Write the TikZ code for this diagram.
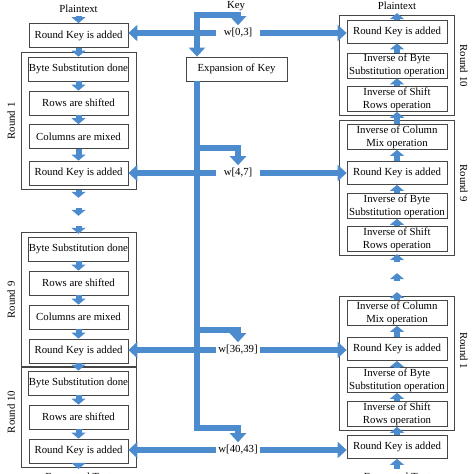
\documentclass[tikz,border=0pt]{standalone}
\usepackage{fontspec}
\setmainfont{Liberation Serif}
\usepackage{xcolor}
\usetikzlibrary{arrows.meta, positioning, fit, calc}
\definecolor{keyblue}{RGB}{76,139,205}
\definecolor{edge}{RGB}{70,70,70}

\begin{document}
\begin{tikzpicture}[
  x=1pt, y=-1pt,
  font=\fontsize{10.8}{13}\selectfont,
  stage/.style={draw=edge, line width=0.8pt, minimum width=99pt, minimum height=24pt, inner xsep=0.5pt, inner ysep=1pt, align=center},
  rframe/.style={draw=edge, line width=0.8pt, inner xsep=7pt, inner ysep=4pt},
  flow/.style={line width=6pt, color=keyblue, -{Triangle[length=6pt, width=14pt]}},
  keyarr/.style={line width=6.5pt, color=keyblue, -{Triangle[length=9pt, width=16pt]}},
  wlbl/.style={minimum width=44pt, inner xsep=1pt, inner ysep=3pt},
  rlbl/.style={inner sep=1pt}
]
\useasboundingbox (0,0) rectangle (474,474);

% encryption (left)
\node[anchor=base] (ptl) at (78.5,12) {Plaintext};
\node[stage] (rk0) at (78.5,35.5) {Round Key is added};
\node[stage] (bs1) at (78.5,69) {Byte Substitution done};
\node[stage] (rs1) at (78.5,103) {Rows are shifted};
\node[stage] (cm1) at (78.5,136.5) {Columns are mixed};
\node[stage] (rk1) at (78.5,173) {Round Key is added};
\node[stage] (bs9) at (78.5,249) {Byte Substitution done};
\node[stage] (rs9) at (78.5,283) {Rows are shifted};
\node[stage] (cm9) at (78.5,317) {Columns are mixed};
\node[stage] (rk9) at (78.5,351) {Round Key is added};
\node[stage] (bs10) at (78.5,383) {Byte Substitution done};
\node[stage] (rs10) at (78.5,417) {Rows are shifted};
\node[stage] (rk10) at (78.5,451) {Round Key is added};
\node[anchor=base] (encl) at (78.5,480) {Encrypted Text};

\node[rframe, fit=(bs1)(rk1)] (f1) {};
\node[rframe, fit=(bs9)(rk9)] (f9) {};
\node[rframe, fit=(bs10)(rk10)] (f10) {};
\node[rlbl, rotate=90] (lr1) at ([xshift=-9.5pt]f1.west) {Round 1};
\node[rlbl, rotate=90] (lr9) at ([xshift=-9.5pt]f9.west) {Round 9};
\node[rlbl, rotate=90] (lr10) at ([xshift=-9.5pt, yshift=5pt]f10.west) {Round 10};

% decryption (right)
\node[anchor=base] (ptr) at (397,9.5) {Plaintext};
\node[stage, minimum width=100pt, minimum height=23pt] (rkr10) at (397,31.5) {Round Key is added};
\node[stage, minimum width=100pt] (ibsr10) at (397,65.5) {Inverse of Byte\\Substitution operation};
\node[stage, minimum width=100pt] (isrr10) at (397,99) {Inverse of Shift\\Rows operation};
\node[stage, minimum width=100pt] (icmr9) at (397,137) {Inverse of Column\\Mix operation};
\node[stage, minimum width=100pt, minimum height=23pt] (rkr9) at (397,173) {Round Key is added};
\node[stage, minimum width=100pt] (ibsr9) at (397,206) {Inverse of Byte\\Substitution operation};
\node[stage, minimum width=100pt] (isrr9) at (397,239) {Inverse of Shift\\Rows operation};
\node[stage, minimum width=100pt] (icmr1) at (397,313) {Inverse of Column\\Mix operation};
\node[stage, minimum width=100pt, minimum height=23pt] (rkr1) at (397,349) {Round Key is added};
\node[stage, minimum width=100pt] (ibsr1) at (397,380) {Inverse of Byte\\Substitution operation};
\node[stage, minimum width=100pt] (isrr1) at (397,414) {Inverse of Shift\\Rows operation};
\node[stage, minimum width=100pt, minimum height=23pt] (rkf) at (397,447) {Round Key is added};
\node[anchor=base] (encr) at (397,480) {Encrypted Text};

\node[rframe, fit=(rkr10)(isrr10)] (fr10) {};
\node[rframe, fit=(icmr9)(isrr9)] (fr9) {};
\node[rframe, fit=(icmr1)(isrr1)] (fr1) {};
\node[rlbl, rotate=-90] (rr10) at ([xshift=9pt]fr10.east) {Round 10};
\node[rlbl, rotate=-90] (rr9) at ([xshift=9pt, yshift=5pt]fr9.east) {Round 9};
\node[rlbl, rotate=-90] (rr1) at ([xshift=9pt, yshift=13pt]fr1.east) {Round 1};

% key schedule (middle)
\node[anchor=base] (key) at (236,8.5) {Key};
\node[stage, minimum width=101pt] (expk) at (236.5,69) {Expansion of Key};
\node[wlbl] (w03) at (238,33) {w[0,3]};
\node[wlbl] (w47) at (238,173) {w[4,7]};
\node[wlbl] (w3639) at (238,350) {w[36,39]};
\node[wlbl] (w4043) at (238,450) {w[40,43]};
\coordinate (ktop) at (197,15);
\coordinate (b47) at (197,148);
\coordinate (b3639) at (197,330);
\coordinate (b4043) at (197,428);

\draw[keyarr] ([xshift=-3.25pt]ktop) -| (w03.north);
\draw[keyarr] (ktop) -- (ktop |- expk.north);
\draw[keyarr] (ktop |- expk.south) -- (b4043) -| (w4043.north);
\draw[keyarr] (b47) -| (w47.north);
\draw[keyarr] (b3639) -| (w3639.north);
\foreach \w/\l/\r in {w03/rk0/rkr10, w47/rk1/rkr9, w3639/rk9/rkr1, w4043/rk10/rkf} {
  \draw[keyarr] (\w.west) -- (\w.west -| \l.east);
  \draw[keyarr] (\w.east) -- (\w.east -| \r.west);
}

% data flow
\foreach \a/\b in {ptl/rk0, rk0/bs1, bs1/rs1, rs1/cm1, cm1/rk1, bs9/rs9, rs9/cm9, cm9/rk9, rk9/bs10, bs10/rs10, rs10/rk10, rk10/encl}
  \draw[flow] (\a) -- (\b);
\foreach \a/\b in {encr/rkf, rkf/isrr1, isrr1/ibsr1, ibsr1/rkr1, rkr1/icmr1, isrr9/ibsr9, ibsr9/rkr9, rkr9/icmr9, icmr9/isrr10, isrr10/ibsr10, ibsr10/rkr10, rkr10/ptr}
  \draw[flow] (\a) -- (\b);
\foreach \k in {0,1,2} {
  \draw[flow] ([yshift={-\k*18pt}]f1.south) -- ++(0,8);
  \draw[flow] ([yshift={\k*19pt}]icmr1.north) -- ++(0,-8);
}
\end{tikzpicture}
\end{document}
